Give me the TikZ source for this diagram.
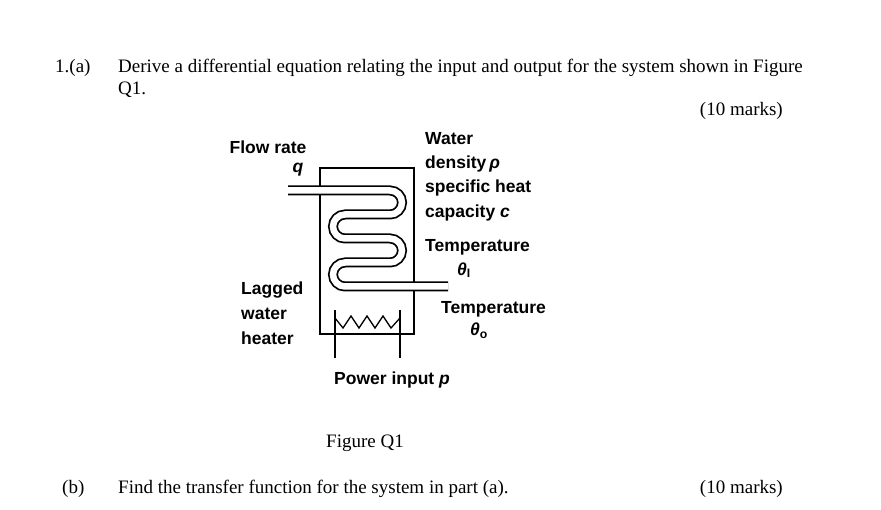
\documentclass[tikz,border=0pt]{standalone}
\usepackage{fontspec}
\setmainfont{Liberation Serif}
\newfontfamily\lab{Liberation Sans}
\begin{document}
\begin{tikzpicture}[x=1pt,y=-1pt,
  txt/.style={font=\fontsize{19}{22}\selectfont,inner sep=0},
  lb/.style={font=\lab\bfseries\fontsize{17.5}{20}\selectfont,inner sep=0,anchor=west},
  ln/.style={line width=1.3pt}]
\useasboundingbox (0,0) rectangle (881,510);
\node[txt,anchor=west] (n1) at (55,68) {1.(a)};
\node[txt,anchor=west] (t1) at (118,68) {Derive a differential equation relating the input and output for the system shown in Figure};
\node[txt,anchor=west] (t2) at (118,90) {Q1.};
\node[txt,anchor=east] (m1) at (783,111) {(10 marks)};
% box
\draw[ln] (320,168) rectangle (414,334);
% tube
\def\tube#1{\draw[#1] (288,190.5) -- (390,190.5) arc[start angle=-90,end angle=90,radius=12] -- (345,214.5) arc[start angle=-90,end angle=-270,radius=12] -- (390,238.5) arc[start angle=-90,end angle=90,radius=12] -- (345,262.5) arc[start angle=-90,end angle=-270,radius=12] -- (448,286.5);}
\tube{line width=10pt,black}
\tube{line width=6.5pt,white}
% heater
\draw[ln] (335,310) -- (335,358);
\draw[ln] (400,310) -- (400,358);
\draw[ln] (335,318) -- (343,328) -- (351,316) -- (359,328) -- (367,316) -- (375,328) -- (383,316) -- (391,328) -- (400,318);
% labels
\node[lb,anchor=center] (fr) at (268,147) {Flow rate};
\node[lb,anchor=center] (q) at (298,170) {\itshape q};
\node[lb] (w1) at (425,139) {Water};
\node[lb] (w2) at (425,164) {density\,{\itshape ρ}};
\node[lb] (w3) at (425,188) {specific heat};
\node[lb] (w4) at (425,213) {capacity {\itshape c}};
\node[lb] (ti) at (425,247) {Temperature};
\node[lb,anchor=center] (thi) at (464,270) {\itshape θ\textsubscript{\upshape I}};
\node[lb] (l1) at (241,290) {Lagged};
\node[lb] (l2) at (241,314) {water};
\node[lb] (l3) at (241,338) {heater};
\node[lb] (to) at (441,309) {Temperature};
\node[lb,anchor=center] (tho) at (479,331) {\itshape θ\textsubscript{\upshape o}};
\node[lb,anchor=center] (pw) at (392,380) {Power input {\itshape p}};
\node[txt] (fig) at (365,443) {Figure Q1};
\node[txt,anchor=west] (b) at (62,489) {(b)};
\node[txt,anchor=west] (t3) at (118,489) {Find the transfer function for the system in part (a).};
\node[txt,anchor=east] (m2) at (783,489) {(10 marks)};
\end{tikzpicture}
\end{document}
